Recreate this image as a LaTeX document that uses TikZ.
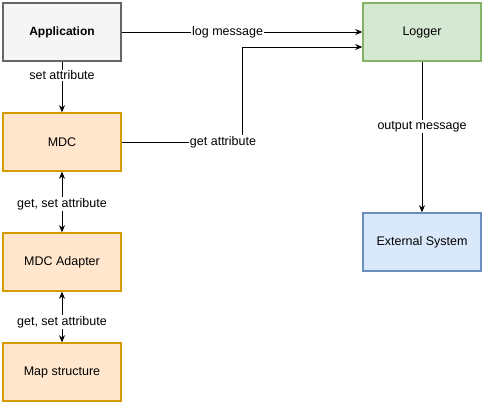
\documentclass[tikz,border=0pt]{standalone}
\usepackage{fontspec}
\setmainfont{Liberation Sans}
\usetikzlibrary{arrows.meta}
\definecolor{grayfill}{HTML}{F5F5F5}
\definecolor{graystroke}{HTML}{666666}
\definecolor{orfill}{HTML}{FFE6CC}
\definecolor{orstroke}{HTML}{D79B00}
\definecolor{grfill}{HTML}{D5E8D4}
\definecolor{grstroke}{HTML}{82B366}
\definecolor{blfill}{HTML}{DAE8FC}
\definecolor{blstroke}{HTML}{6C8EBF}
\tikzset{
  box/.style={draw, line width=1.5pt, minimum width=118pt, minimum height=58pt, inner sep=0pt, font=\fontsize{12.5}{15}\selectfont},
  appbox/.style={box, fill=grayfill, draw=graystroke, font=\fontsize{12}{14}\selectfont\bfseries},
  orbox/.style={box, fill=orfill, draw=orstroke},
  grbox/.style={box, fill=grfill, draw=grstroke},
  blbox/.style={box, fill=blfill, draw=blstroke},
  conn/.style={line width=0.8pt, -{Stealth[length=7pt,width=6pt]}},
  biconn/.style={line width=0.8pt, {Stealth[length=7pt,width=6pt]}-{Stealth[length=7pt,width=6pt]}},
  lbl/.style={fill=white, inner sep=1pt, font=\fontsize{12.5}{15}\selectfont}
}
\begin{document}
\begin{tikzpicture}[x=1pt,y=-1pt]
\useasboundingbox (0,0) rectangle (482,402);
\node[appbox] (app) at (62,32) {Application};
\node[orbox] (mdc) at (62,142) {MDC};
\node[orbox] (adp) at (62,262) {MDC Adapter};
\node[orbox] (map) at (62,372) {Map structure};
\node[grbox] (log) at (422,32) {Logger};
\node[blbox] (ext) at (422,242) {External System};
\coordinate (bend1) at (242,142);
\coordinate (bend2) at (242,47);
\draw[conn] (app.east) -- node[lbl, pos=0.44] {log message} (log.west);
\draw[conn] (mdc.east) -- (bend1) -- (bend2) -- (log.west |- bend2);
\node[lbl] (ga) at (223,142) {get attribute};
\draw[conn] (app.south) -- node[lbl, pos=0.27] {set attribute} (mdc.north);
\draw[biconn] (mdc.south) -- node[lbl, pos=0.53] {get, set attribute} (adp.north);
\draw[biconn] (adp.south) -- node[lbl, pos=0.6] {get, set attribute} (map.north);
\draw[conn] (log.south) -- node[lbl, pos=0.43] {output message} (ext.north);
\end{tikzpicture}
\end{document}
